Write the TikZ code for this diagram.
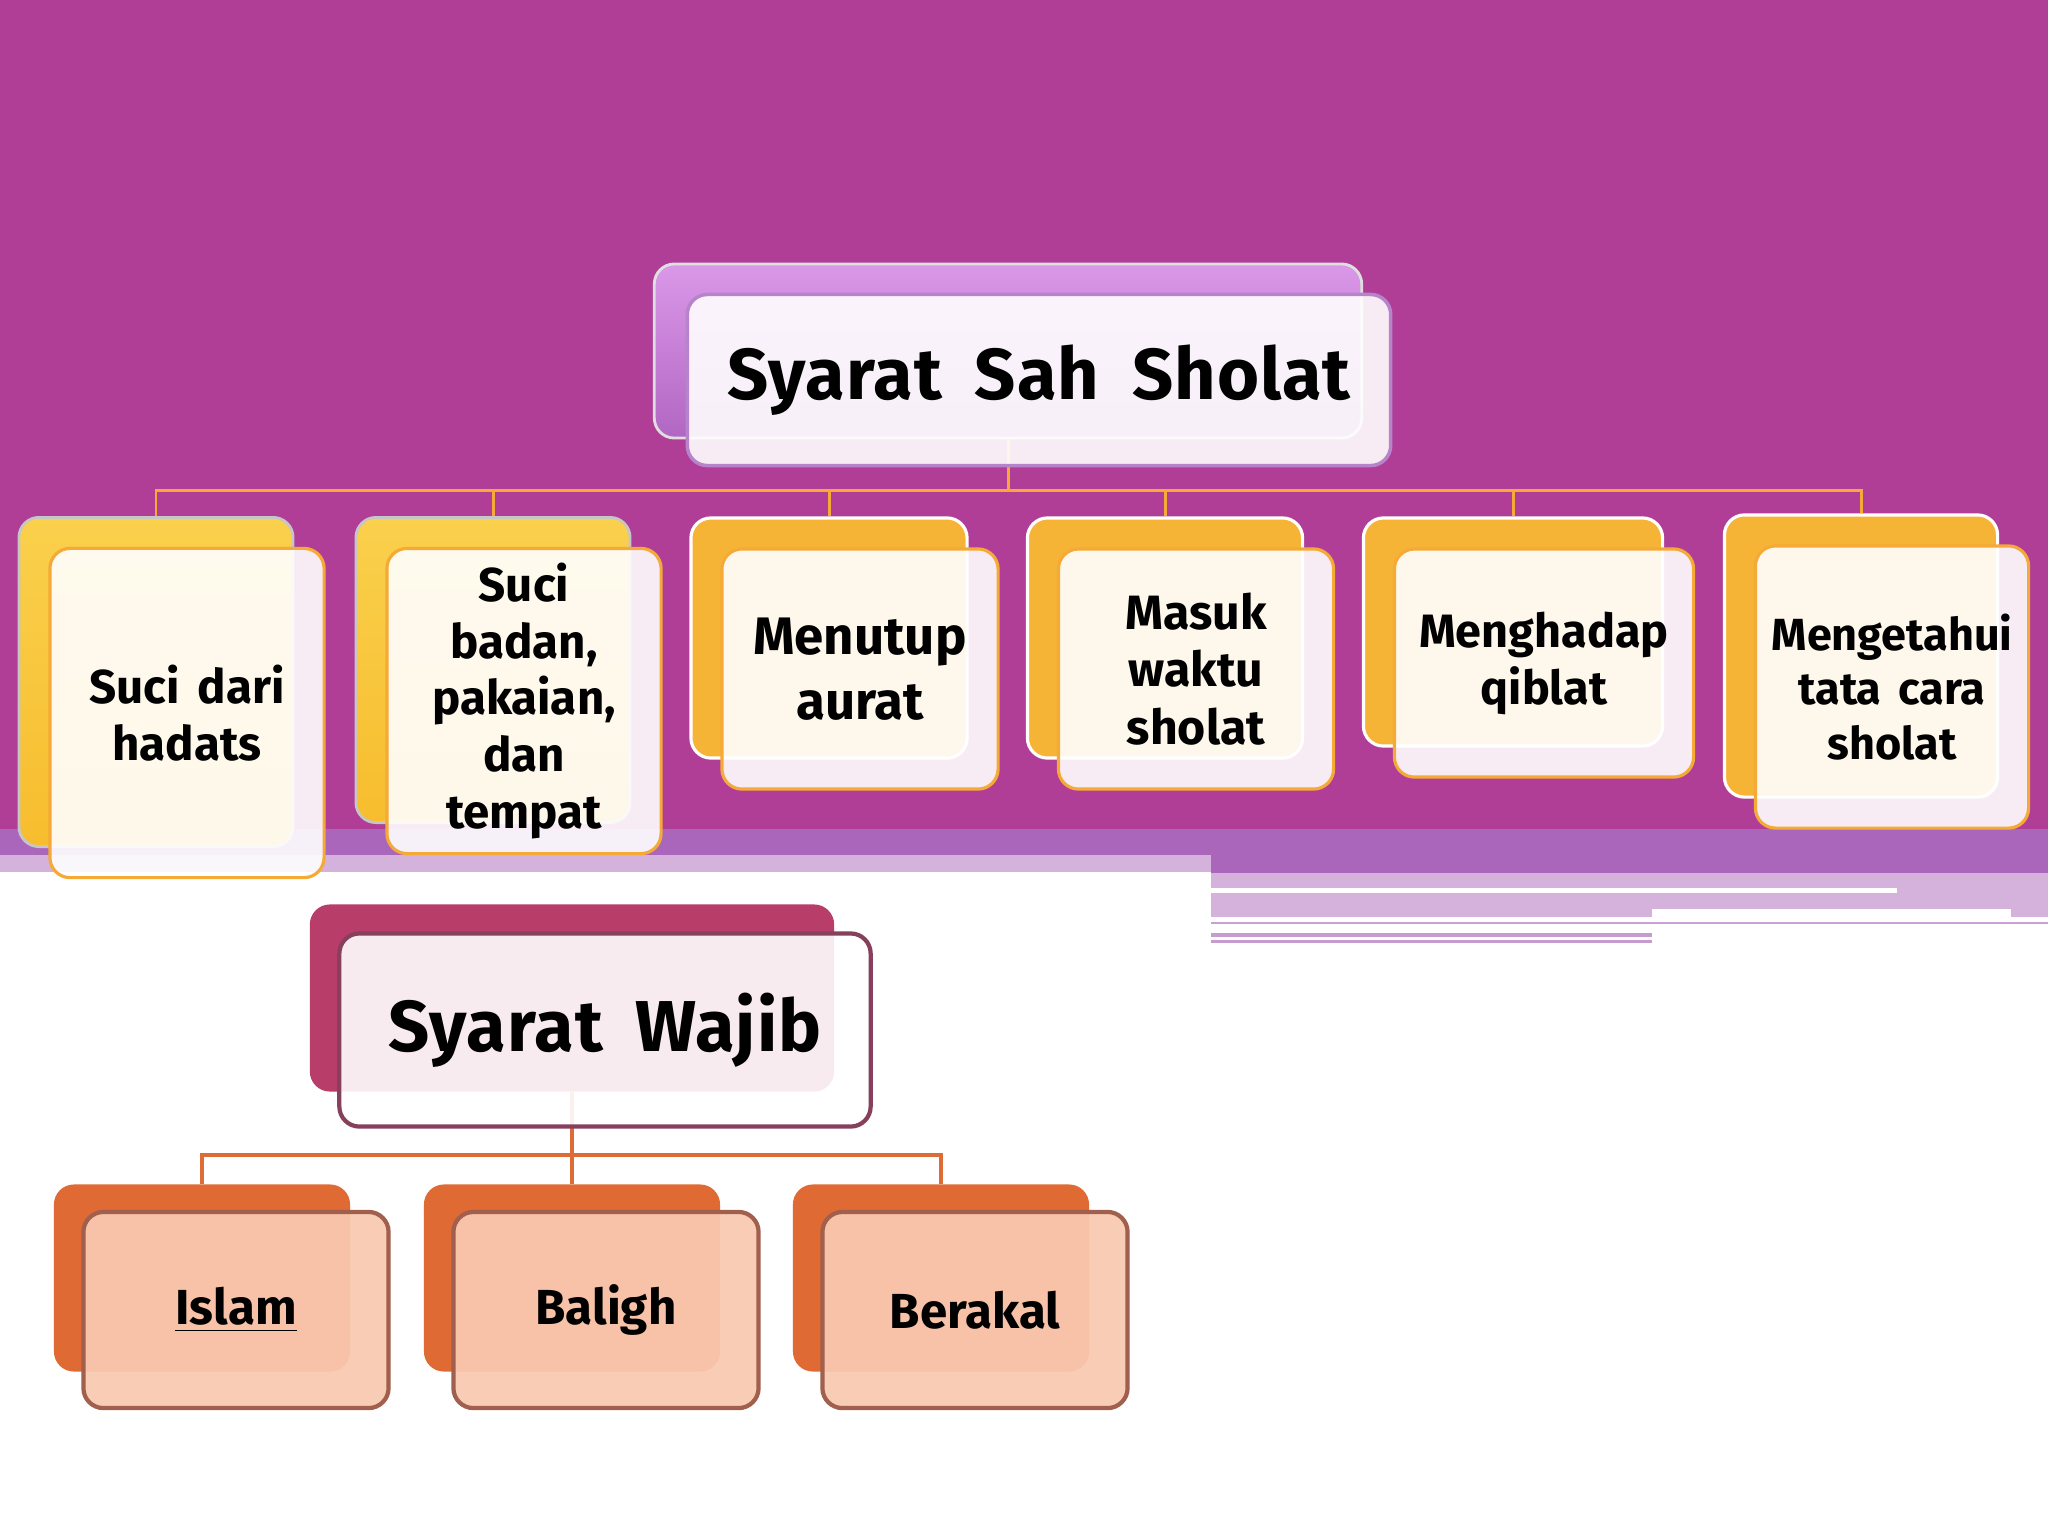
\documentclass[tikz,border=0pt]{standalone}
\usepackage{fontspec}
\setmainfont[WordSpace=1.6]{Fira Sans}
\newfontfamily\titlefont[WordSpace=1.8,LetterSpace=1.5]{Fira Sans}
\usepackage{xcolor}

\definecolor{bgpurple}{HTML}{B03E97}
\definecolor{bandpurple}{HTML}{AA66BB}
\definecolor{lilac}{HTML}{D4B2DC}
\definecolor{sahtop}{HTML}{DA98E8}
\definecolor{sahbot}{HTML}{B266C3}
\definecolor{sahedge}{HTML}{B784CB}
\definecolor{goldtop}{HTML}{FAD04C}
\definecolor{goldbot}{HTML}{F7BD2E}
\definecolor{gold}{HTML}{F6B437}
\definecolor{goldedge}{HTML}{F5AA38}
\definecolor{wajibback}{HTML}{B83D69}
\definecolor{wajibedge}{HTML}{86405B}
\definecolor{rust}{HTML}{DF6A33}
\definecolor{peach}{HTML}{F9C9B0}
\definecolor{peachedge}{HTML}{A0604D}
\definecolor{rustdark}{HTML}{DD6C37}

\tikzset{
  box/.style={rounded corners=0.2cm, inner sep=0pt, align=center, font=\bfseries},
  backpurple/.style={box, draw=white!75!gray, line width=0.8pt, top color=sahtop, bottom color=sahbot},
  frontpurple/.style={box, draw=sahedge, line width=1pt, fill=white, fill opacity=0.9, text opacity=1},
  glossgold/.style={box, draw=gray!45, line width=0.8pt, top color=goldtop, bottom color=goldbot},
  flatgold/.style={box, draw=white, line width=0.9pt, fill=gold},
  frontgold/.style={box, draw=goldedge, line width=0.9pt, fill=white, fill opacity=0.9, text opacity=1},
  goldline/.style={draw=goldedge, line width=0.85pt},
  backwajib/.style={box, fill=wajibback},
  frontwajib/.style={box, draw=wajibedge, line width=1.2pt, fill=white, fill opacity=0.9, text opacity=1},
  backrust/.style={box, fill=rust},
  frontpeach/.style={box, draw=peachedge, line width=1.2pt, fill=peach, fill opacity=0.93, text opacity=1},
  rustline/.style={draw=rustdark, line width=1.1pt},
}

\begin{document}
\begin{tikzpicture}[x=0.01cm,y=-0.01cm]
\useasboundingbox (0,0) rectangle (2048,1536);

% background and stripes
\fill[white] (0,0) rectangle (2048,1536);
\fill[bgpurple] (0,0) rectangle (2048,829);
\fill[bandpurple] (0,829) rectangle (2048,855);
\fill[bandpurple] (1211,855) rectangle (2048,873);
\fill[lilac] (0,855) rectangle (1211,872);
\fill[lilac] (1211,873) rectangle (2048,917);
\fill[white] (1211,888) rectangle (1897,893);
\fill[white] (1652,909) rectangle (2011,917);
\fill[lilac!75!bandpurple] (1211,922) rectangle (2048,924);
\fill[lilac!70!bandpurple] (1211,933) rectangle (1652,937);
\fill[lilac!70!bandpurple] (1211,940) rectangle (1652,943);

% syarat sah sholat
\node[backpurple, minimum width=7.07cm, minimum height=1.74cm] (sahb) at (1008,351) {};
\coordinate (sahbar) at (1008,490);
\foreach \i/\x/\y/\w/\h/\st/\fs/\ls/\lab in {
  1/187/713/2.74cm/3.29cm/glossgold/13.5/16.2/{Suci dari\\hadats},
  2/524/701/2.74cm/3.05cm/glossgold/13.5/16.2/{Suci\\badan,\\pakaian,\\dan\\tempat},
  3/860/669/2.76cm/2.40cm/flatgold/15/18.5/{Menutup\\aurat},
  4/1196/669/2.75cm/2.40cm/flatgold/13.7/16.4/{Masuk\\waktu\\sholat},
  5/1544/663/2.99cm/2.28cm/flatgold/13.3/16.2/{Menghadap\\qiblat},
  6/1892/687/2.73cm/2.82cm/flatgold/12.8/15.5/{Mengetahui\\tata cara\\sholat}}
{
  \node[\st, minimum width=\w, minimum height=\h] (sb\i) at (\x-31,\y-31) {};
  \draw[goldline] (sahb.south) |- (sahbar) -| (sb\i.north);
  \node[frontgold, minimum width=\w, minimum height=\h,
        font=\bfseries\fontsize{\fs}{\ls}\selectfont] (sf\i) at (\x,\y) {\lab};
}
\node[frontpurple, minimum width=7.03cm, minimum height=1.71cm,
      font=\titlefont\bfseries\fontsize{20.5}{24}\selectfont] (sah) at (1039,380) {Syarat Sah Sholat};

% syarat wajib
\node[backwajib, minimum width=5.24cm, minimum height=1.87cm] (wajb) at (572,998) {};
\coordinate (wajbar) at (572,1155);
\foreach \i/\x/\lab in {1/236/\underline{Islam}, 2/606/Baligh, 3/975/Berakal}
{
  \node[backrust, minimum width=2.96cm, minimum height=1.87cm] (wb\i) at (\x-34,1278) {};
  \draw[rustline] (wajb.south) |- (wajbar) -| (wb\i.north);
  \node[frontpeach, minimum width=3.05cm, minimum height=1.96cm,
        font=\bfseries\fontsize{14}{17}\selectfont] (wf\i) at (\x,1310) {\lab};
}
\node[frontwajib, minimum width=5.31cm, minimum height=1.93cm,
      font=\titlefont\bfseries\fontsize{20.5}{24}\selectfont] (waj) at (605,1030) {Syarat Wajib};
\end{tikzpicture}
\end{document}
